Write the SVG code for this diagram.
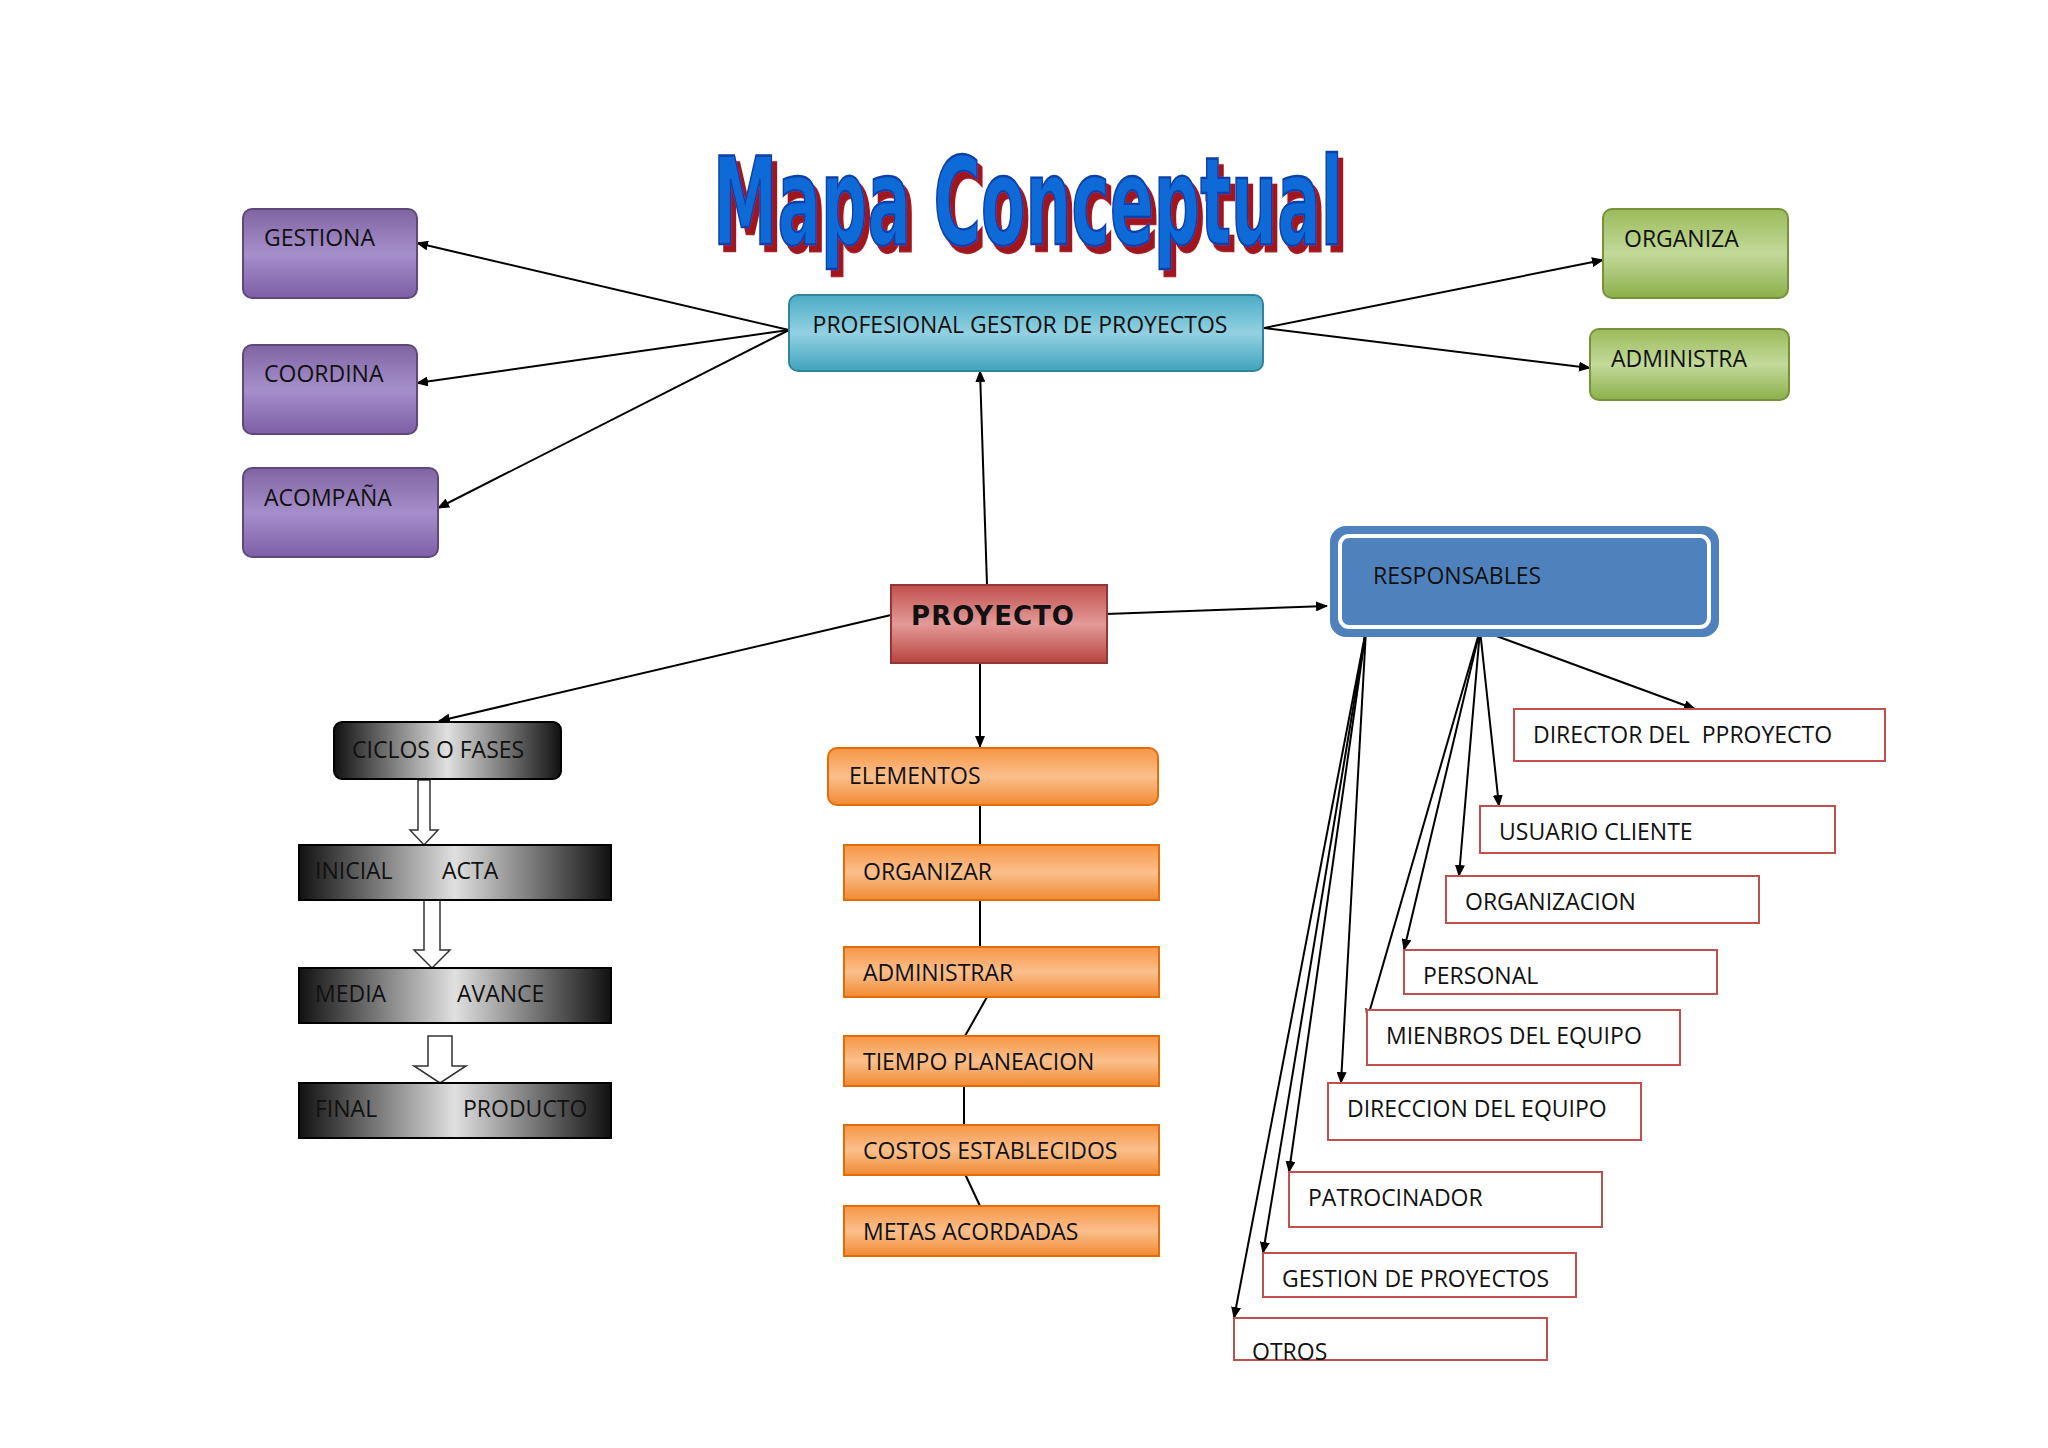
<svg xmlns="http://www.w3.org/2000/svg" width="2048" height="1448" viewBox="0 0 2048 1448">
<style>
text{font-family:"Open Sans","DejaVu Sans",sans-serif;font-size:23px;fill:#111}
.c line,.c path{stroke:#000;stroke-width:2;fill:none}
.a{marker-end:url(#ah)}
.rb{fill:#fff;stroke:#c0504d;stroke-width:2}
.blk{fill:#fff;stroke:#333;stroke-width:1.5}
</style>
<defs>
<marker id="ah" markerWidth="12" markerHeight="10" refX="11" refY="5" orient="auto" markerUnits="userSpaceOnUse"><path d="M0,0L12,5L0,10z" fill="#000"/></marker>
<filter id="sh" x="-5%" y="-20%" width="110%" height="140%"><feDropShadow dx="5" dy="6" stdDeviation="0" flood-color="#a0141e"/></filter>
<linearGradient id="gp" x1="0" y1="0" x2="0" y2="1"><stop offset="0" stop-color="#8064a2"/><stop offset="0.5" stop-color="#a58fcb"/><stop offset="1" stop-color="#7d5fa6"/></linearGradient>
<linearGradient id="gg" x1="0" y1="0" x2="0" y2="1"><stop offset="0" stop-color="#9bbb59"/><stop offset="0.5" stop-color="#c3d99a"/><stop offset="1" stop-color="#8cb04a"/></linearGradient>
<linearGradient id="gc" x1="0" y1="0" x2="0" y2="1"><stop offset="0" stop-color="#4bacc6"/><stop offset="0.5" stop-color="#93d1e2"/><stop offset="1" stop-color="#3fa3bd"/></linearGradient>
<linearGradient id="go" x1="0" y1="0" x2="0" y2="1"><stop offset="0" stop-color="#f79646"/><stop offset="0.5" stop-color="#fbbf8c"/><stop offset="1" stop-color="#f08a32"/></linearGradient>
<linearGradient id="gr" x1="0" y1="0" x2="0" y2="1"><stop offset="0" stop-color="#c0504d"/><stop offset="0.5" stop-color="#e39a98"/><stop offset="1" stop-color="#b8433f"/></linearGradient>
<linearGradient id="gk" x1="0" y1="0" x2="1" y2="0"><stop offset="0" stop-color="#111"/><stop offset="0.5" stop-color="#e0e0e0"/><stop offset="1" stop-color="#111"/></linearGradient>
</defs>
<rect width="2048" height="1448" fill="#fff"/>
<text x="1028" y="244" text-anchor="middle" filter="url(#sh)" style="font-family:'DejaVu Sans Condensed','DejaVu Sans',sans-serif;font-weight:bold;font-size:106px;fill:#0a6ad6;stroke:#0b3fa8;stroke-width:2" textLength="630" lengthAdjust="spacingAndGlyphs" transform="translate(1028 244) scale(1 1.15) translate(-1028 -244)">Mapa Conceptual</text>
<g class="c" id="connectors">
<line class="a" x1="789" y1="330" x2="417" y2="243"/>
<line class="a" x1="789" y1="330" x2="417" y2="383"/>
<line class="a" x1="789" y1="330" x2="438" y2="508"/>
<line class="a" x1="1264" y1="328" x2="1603" y2="260"/>
<line class="a" x1="1264" y1="328" x2="1590" y2="368"/>
<line class="a" x1="987" y1="585" x2="980" y2="371"/>
<line class="a" x1="1106" y1="614" x2="1327" y2="606"/>
<line class="a" x1="891" y1="615" x2="439" y2="721"/>
<line class="a" x1="980" y1="663" x2="980" y2="747"/>
<line x1="980" y1="806" x2="980" y2="845"/>
<line x1="980" y1="900" x2="980" y2="947"/>
<line x1="987" y1="997" x2="965" y2="1036"/>
<line x1="964" y1="1085" x2="964" y2="1125"/>
<line x1="965" y1="1174" x2="980" y2="1206"/>
<line class="a" x1="1480" y1="630" x2="1695" y2="709"/>
<line class="a" x1="1480" y1="630" x2="1499" y2="806"/>
<line class="a" x1="1480" y1="630" x2="1459" y2="876"/>
<line class="a" x1="1480" y1="630" x2="1404" y2="950"/>
<line class="a" x1="1480" y1="630" x2="1367" y2="1020"/>
<line class="a" x1="1366" y1="630" x2="1341" y2="1083"/>
<line class="a" x1="1366" y1="630" x2="1289" y2="1172"/>
<line class="a" x1="1366" y1="630" x2="1263" y2="1253"/>
<line class="a" x1="1366" y1="630" x2="1234" y2="1318"/>
</g>
<g id="blockarrows">
<path class="blk" d="M418,780h12v50h8l-14,15l-14,-15h8z"/>
<path class="blk" d="M424,900h16v50h10l-18,18l-18,-18h10z"/>
<path class="blk" d="M428,1036h24v30h14l-26,17l-26,-17h14z"/>
</g>
<g id="gestiona"><rect x="243" y="209" width="174" height="89" rx="9" fill="url(#gp)" stroke="#5f497a" stroke-width="2"/><text x="264" y="246">GESTIONA</text></g>
<g id="coordina"><rect x="243" y="345" width="174" height="89" rx="9" fill="url(#gp)" stroke="#5f497a" stroke-width="2"/><text x="264" y="382">COORDINA</text></g>
<g id="acompana"><rect x="243" y="468" width="195" height="89" rx="9" fill="url(#gp)" stroke="#5f497a" stroke-width="2"/><text x="264" y="506">ACOMPAÑA</text></g>
<g id="profesional"><rect x="789" y="295" width="474" height="76" rx="9" fill="url(#gc)" stroke="#31849b" stroke-width="2"/><text x="1020" y="333" text-anchor="middle">PROFESIONAL GESTOR DE PROYECTOS</text></g>
<g id="organiza"><rect x="1603" y="209" width="185" height="89" rx="9" fill="url(#gg)" stroke="#76923c" stroke-width="2"/><text x="1624" y="247">ORGANIZA</text></g>
<g id="administra"><rect x="1590" y="329" width="199" height="71" rx="9" fill="url(#gg)" stroke="#76923c" stroke-width="2"/><text x="1611" y="367">ADMINISTRA</text></g>
<g id="proyecto"><rect x="891" y="585" width="216" height="78" fill="url(#gr)" stroke="#943634" stroke-width="2"/><text x="993" y="625" text-anchor="middle" style="font-family:'DejaVu Sans',sans-serif;font-weight:bold;font-size:26px;letter-spacing:1px">PROYECTO</text></g>
<g id="responsables"><rect x="1332" y="528" width="385" height="107" rx="14" fill="#4f81bd" stroke="#4f81bd" stroke-width="4"/><rect x="1340" y="536" width="369" height="91" rx="9" fill="#4f81bd" stroke="#fff" stroke-width="4"/><text x="1373" y="584">RESPONSABLES</text></g>
<g id="ciclos"><rect x="334" y="722" width="227" height="57" rx="8" fill="url(#gk)" stroke="#000" stroke-width="2"/><text x="352" y="758">CICLOS O FASES</text></g>
<g id="inicial"><rect x="299" y="845" width="312" height="55" fill="url(#gk)" stroke="#000" stroke-width="2"/><text x="315" y="879">INICIAL</text><text x="442" y="879">ACTA</text></g>
<g id="media"><rect x="299" y="968" width="312" height="55" fill="url(#gk)" stroke="#000" stroke-width="2"/><text x="315" y="1002">MEDIA</text><text x="457" y="1002">AVANCE</text></g>
<g id="final"><rect x="299" y="1083" width="312" height="55" fill="url(#gk)" stroke="#000" stroke-width="2"/><text x="315" y="1117">FINAL</text><text x="463" y="1117">PRODUCTO</text></g>
<g id="elementos"><rect x="828" y="748" width="330" height="57" rx="9" fill="url(#go)" stroke="#e36c09" stroke-width="2"/><text x="849" y="784">ELEMENTOS</text></g>
<g id="organizar"><rect x="844" y="845" width="315" height="55" fill="url(#go)" stroke="#e36c09" stroke-width="2"/><text x="863" y="880">ORGANIZAR</text></g>
<g id="administrar"><rect x="844" y="947" width="315" height="50" fill="url(#go)" stroke="#e36c09" stroke-width="2"/><text x="863" y="981">ADMINISTRAR</text></g>
<g id="tiempo"><rect x="844" y="1036" width="315" height="50" fill="url(#go)" stroke="#e36c09" stroke-width="2"/><text x="863" y="1070">TIEMPO PLANEACION</text></g>
<g id="costos"><rect x="844" y="1125" width="315" height="50" fill="url(#go)" stroke="#e36c09" stroke-width="2"/><text x="863" y="1159">COSTOS ESTABLECIDOS</text></g>
<g id="metas"><rect x="844" y="1206" width="315" height="50" fill="url(#go)" stroke="#e36c09" stroke-width="2"/><text x="863" y="1240">METAS ACORDADAS</text></g>
<g id="director"><rect class="rb" x="1514" y="709" width="371" height="52"/><text x="1533" y="743" xml:space="preserve">DIRECTOR DEL  PPROYECTO</text></g>
<g id="usuario"><rect class="rb" x="1480" y="806" width="355" height="47"/><text x="1499" y="840">USUARIO CLIENTE</text></g>
<g id="organizacion"><rect class="rb" x="1446" y="876" width="313" height="47"/><text x="1465" y="910">ORGANIZACION</text></g>
<g id="personal"><rect class="rb" x="1404" y="950" width="313" height="44"/><text x="1423" y="984">PERSONAL</text></g>
<g id="mienbros"><rect class="rb" x="1367" y="1010" width="313" height="55"/><text x="1386" y="1044">MIENBROS DEL EQUIPO</text></g>
<g id="direccion"><rect class="rb" x="1328" y="1083" width="313" height="57"/><text x="1347" y="1117">DIRECCION DEL EQUIPO</text></g>
<g id="patrocinador"><rect class="rb" x="1289" y="1172" width="313" height="55"/><text x="1308" y="1206">PATROCINADOR</text></g>
<g id="gestion"><rect class="rb" x="1263" y="1253" width="313" height="44"/><text x="1282" y="1287">GESTION DE PROYECTOS</text></g>
<g id="otros"><rect class="rb" x="1234" y="1318" width="313" height="42"/><svg x="1234" y="1318" width="313" height="42" overflow="hidden"><text x="18" y="42">OTROS</text></svg></g>
</svg>
